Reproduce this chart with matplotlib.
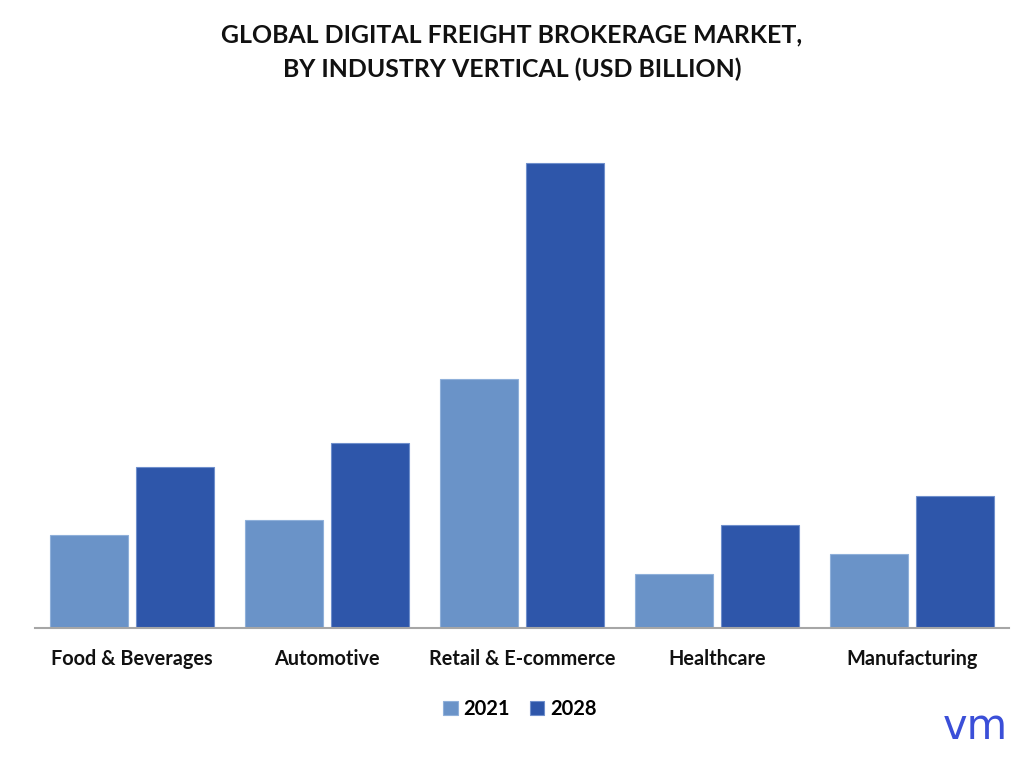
import matplotlib
matplotlib.use("Agg")
import matplotlib.pyplot as plt
import numpy as np

categories = ["Food & Beverages", "Automotive", "Retail & E-commerce", "Healthcare", "Manufacturing"]
values_2021 = [0.93, 1.08, 2.49, 0.54, 0.74]
values_2028 = [1.61, 1.85, 4.65, 1.03, 1.32]
series_labels = ["2021", "2028"]

color_2021 = "#6A93C8"
color_2028 = "#2E56AA"

plt.rcParams['font.family'] = ['Lato', 'DejaVu Sans']

fig = plt.figure(figsize=(10.24, 7.65), dpi=100)
ax = fig.add_axes([0.0337, 0.179, 0.952, 0.664])

x = np.arange(len(categories))
w = 0.4
off = 0.222
ax.bar(x - off, values_2021, width=w, color=color_2021, edgecolor="#8FB0DA", linewidth=0.8, label=series_labels[0])
ax.bar(x + off, values_2028, width=w, color=color_2028, edgecolor="#6F8FCC", linewidth=0.8, label=series_labels[1])

ax.set_xlim(-0.5, 4.5)
ax.set_ylim(0, 5.08)
for s in ["top", "right", "left"]:
    ax.spines[s].set_visible(False)
ax.spines["bottom"].set_color("#A6A6A6")
ax.spines["bottom"].set_linewidth(1.5)
ax.set_yticks([])
ax.set_xticks(x)
ax.set_xticklabels(categories, fontsize=14.3, fontweight="bold", color="#111111")
ax.tick_params(axis="x", length=0, pad=15)

fig.text(0.5, 0.955, "GLOBAL DIGITAL FREIGHT BROKERAGE MARKET,", ha="center", va="center",
         fontsize=17.9, fontweight="bold", color="#111111")
fig.text(0.5, 0.909, "BY INDUSTRY VERTICAL (USD BILLION)", ha="center", va="center",
         fontsize=17.9, fontweight="bold", color="#111111")

leg = fig.legend(loc="center", bbox_to_anchor=(0.508, 0.073), ncol=2, frameon=False,
                 handlelength=0.7, handleheight=0.7, handletextpad=0.3,
                 columnspacing=1.0, prop={'weight': 'bold', 'size': 14.5})

fig.text(0.952, 0.05, "vm", ha="center", va="center", fontsize=30,
         color="#3B4FD8", family=["DejaVu Sans"])

fig.savefig("out.png", dpi=100, facecolor="white")
